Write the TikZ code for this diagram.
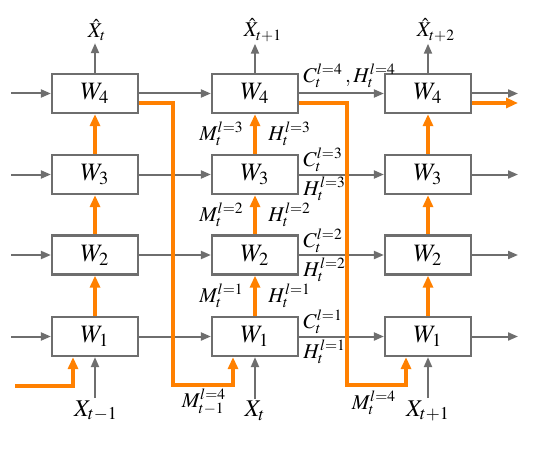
\documentclass[tikz,border=0pt]{standalone}
\usepackage{amsmath}
\usepackage{mathptmx}
\usepackage{tikz}
\usepackage{xcolor}
\usetikzlibrary{arrows.meta}
\definecolor{cellgray}{RGB}{110,110,110}
\definecolor{memorange}{RGB}{255,128,0}

\begin{document}
\begin{tikzpicture}[x=0.5pt,y=-0.5pt,
  cell/.style={draw=cellgray,line width=1.1pt,minimum width=43pt,minimum height=19.5pt,inner sep=0pt,font=\fontsize{12.5}{14}\selectfont},
  gline/.style={draw=cellgray,line width=1pt,-{Triangle[length=5pt,width=4pt]}},
  oline/.style={draw=memorange,line width=1.6pt,-{Triangle[length=6pt,width=5pt]}},
  lab/.style={inner sep=1pt,font=\fontsize{10.5}{12}\selectfont},
  xlab/.style={inner sep=1pt,font=\fontsize{12}{14}\selectfont}]
\useasboundingbox (0,0) rectangle (556,449);

\foreach \c/\x in {a/95,b/255,c/428}
  \foreach \r/\y in {1/336.5,2/255,3/174.5,4/93.5}
    \node[cell] (\c\r) at (\x,\y) {$W_{\r}$};

\foreach \r/\y in {1/336.5,2/255,3/174.5,4/93.5} {
  \coordinate (in\r) at (11,\y);
  \coordinate (out\r) at (518,\y);
  \draw[gline] (in\r) -- (a\r);
  \draw[gline] (a\r) -- (b\r);
  \draw[gline] (b\r) -- (c\r);
  \draw[gline] (c\r) -- (out\r);
}

\foreach \c in {a,b,c}
  \foreach \r/\s in {1/2,2/3,3/4}
    \draw[oline] (\c\r) -- (\c\s);

% outputs
\node[lab] (ya) at (97,30) {$\hat{X}_t$};
\node[lab] (yb) at (263,30) {$\hat{X}_{t+1}$};
\node[lab] (yc) at (436,30) {$\hat{X}_{t+2}$};
\draw[gline] (a4.north) -- (a4.north |- ya.south);
\draw[gline] (b4.north) -- (b4.north |- yb.south);
\draw[gline] (c4.north) -- (c4.north |- yc.south);

% inputs
\node[xlab] (xa) at (96,411) {$X_{t-1}$};
\node[xlab] (xb) at (255,411) {$X_t$};
\node[xlab] (xc) at (428,411) {$X_{t+1}$};
\draw[gline] (a1.south |- xa.north) -- (a1.south);
\draw[gline] (b1.south |- xb.north) -- (b1.south);
\draw[gline] (c1.south |- xc.north) -- (c1.south);

% memory path
\coordinate (m0) at (15,386);
\draw[oline] (m0) -| ([xshift=-11pt]a1.south);
\draw[oline] ([yshift=-4.75pt]a4.east) -| (173,385) -| ([xshift=-11pt]b1.south);
\draw[oline] ([yshift=-4.75pt]b4.east) -| (347,385) -| ([xshift=-11pt]c1.south);
\coordinate (out5) at (518,103);
\draw[oline] ([yshift=-4.75pt]c4.east) -- (out5);

\node[lab] (mprev) at (204,402) {$M_{t-1}^{l=4}$};
\node[lab] (mnow) at (374,403) {$M_t^{l=4}$};

\node[lab,anchor=east] (m1) at (246,296) {$M_t^{l=1}$};
\node[lab,anchor=west] (h1) at (266,296) {$H_t^{l=1}$};
\node[lab,anchor=east] (m2) at (246,215) {$M_t^{l=2}$};
\node[lab,anchor=west] (h2) at (266,215) {$H_t^{l=2}$};
\node[lab,anchor=east] (m3) at (246,134) {$M_t^{l=3}$};
\node[lab,anchor=west] (h3) at (266,134) {$H_t^{l=3}$};

\node[lab,anchor=west] (ct1) at (301,322) {$C_t^{l=1}$};
\node[lab,anchor=west] (ht1) at (301,352) {$H_t^{l=1}$};
\node[lab,anchor=west] (ct2) at (301,241) {$C_t^{l=2}$};
\node[lab,anchor=west] (ht2) at (301,270) {$H_t^{l=2}$};
\node[lab,anchor=west] (ct3) at (301,160) {$C_t^{l=3}$};
\node[lab,anchor=west] (ht3) at (301,189) {$H_t^{l=3}$};
\node[lab,anchor=west] (ct4) at (301,76) {$C_t^{l=4}\,,H_t^{l=4}$};
\end{tikzpicture}
\end{document}
